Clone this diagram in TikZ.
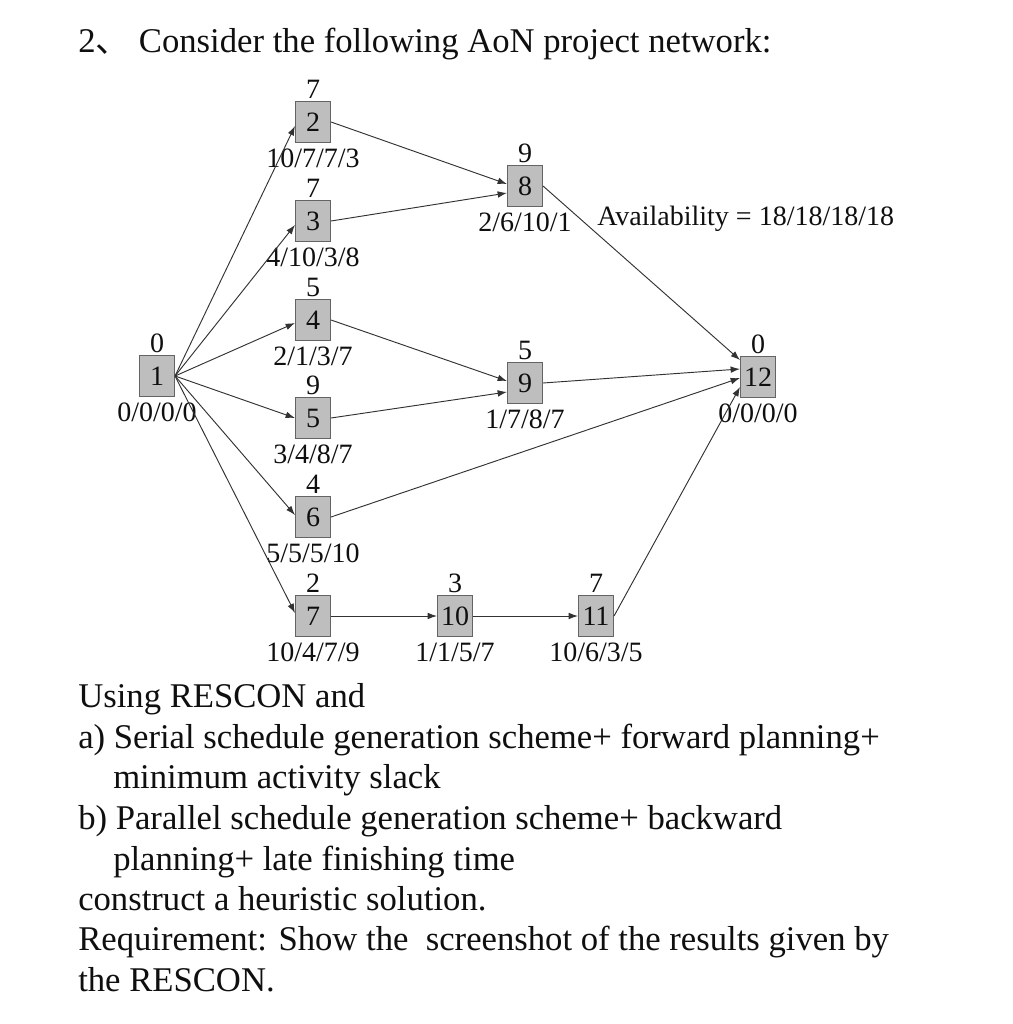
\documentclass[tikz,border=0pt]{standalone}
\usepackage{fontspec}
\setmainfont{Liberation Serif}
\newfontfamily\cjkfont{Noto Sans CJK SC}
\usetikzlibrary{arrows.meta,calc}
\definecolor{boxfill}{RGB}{190,190,190}
\definecolor{boxline}{RGB}{100,100,100}
\definecolor{edge}{RGB}{50,50,50}
\definecolor{txt}{RGB}{15,15,15}
\begin{document}
\begin{tikzpicture}[x=0.75pt,y=-0.75pt,
  act/.style={draw=boxline, fill=boxfill, line width=0.8pt, minimum width=26.25pt, minimum height=30.75pt, inner sep=0pt, font=\fontsize{21}{25}\selectfont, text=txt},
  lab/.style={anchor=base, inner sep=0pt, font=\fontsize{21}{25}\selectfont, text=txt},
  para/.style={anchor=base west, inner sep=0pt, font=\fontsize{26}{30}\selectfont, text=txt},
  arc/.style={draw=edge, line width=0.7pt, -{Latex[length=7pt,width=5pt]}}
]
\fill[white] (0,0) rectangle (1013,1024);

% title
\node[para] (title) at (78,53) {2{\cjkfont 、} Consider the following AoN project network:};

% activities
\node[act] (n1)  at (157,376) {1};
\node[act] (n2)  at (313,122) {2};
\node[act] (n3)  at (313,221) {3};
\node[act] (n4)  at (313,320) {4};
\node[act] (n5)  at (313,418) {5};
\node[act] (n6)  at (313,517) {6};
\node[act] (n7)  at (313,616) {7};
\node[act] (n8)  at (525,186) {8};
\node[act] (n9)  at (525,383) {9};
\node[act] (n10) at (455,616) {10};
\node[act] (n11) at (596,616) {11};
\node[act] (n12) at (758,377) {12};

% durations (above) and resource requirements (below)
\foreach \n/\d/\r in {1/0/0\slash0\slash0\slash0, 2/7/10\slash7\slash7\slash3, 3/7/4\slash10\slash3\slash8,
  4/5/2\slash1\slash3\slash7, 5/9/3\slash4\slash8\slash7, 6/4/5\slash5\slash5\slash10,
  7/2/10\slash4\slash7\slash9, 8/9/2\slash6\slash10\slash1, 9/5/1\slash7\slash8\slash7,
  10/3/1\slash1\slash5\slash7, 11/7/10\slash6\slash3\slash5, 12/0/0\slash0\slash0\slash0}{
  \node[lab] (d\n) at ($(n\n.north)+(0,-2.5)$) {\d};
  \node[lab] (r\n) at ($(n\n.south)+(0,24)$) {\r};
}

\node[lab, anchor=base west] (avail) at (597,225) {Availability = 18/18/18/18};

% precedence relations
\draw[arc] (n1.east) -- ($(n2.west)+(0,4)$);
\draw[arc] (n1.east) -- ($(n3.west)+(0,4)$);
\draw[arc] (n1.east) -- ($(n4.west)+(0,3)$);
\draw[arc] (n1.east) -- ($(n5.west)+(0,0)$);
\draw[arc] (n1.east) -- ($(n6.west)+(0,-2)$);
\draw[arc] (n1.east) -- ($(n7.west)+(0,-3)$);
\draw[arc] (n2.east) -- ($(n8.west)+(0,-2)$);
\draw[arc] (n3.east) -- ($(n8.west)+(0,7)$);
\draw[arc] (n4.east) -- ($(n9.west)+(0,-2)$);
\draw[arc] (n5.east) -- ($(n9.west)+(0,9)$);
\draw[arc] (n8.east) -- ($(n12.west)+(0,-17)$);
\draw[arc] (n9.east) -- ($(n12.west)+(0,-8)$);
\draw[arc] (n6.east) -- ($(n12.west)+(0,1)$);
\draw[arc] (n11.east) -- ($(n12.west)+(0,10)$);
\draw[arc] (n7.east) -- (n10.west);
\draw[arc] (n10.east) -- (n11.west);

% question text
\node[para] (l1) at (78,707) {Using RESCON and};
\node[para] (l2) at (78,748) {a) Serial schedule generation scheme+ forward planning+};
\node[para] (l3) at (113,788) {minimum activity slack};
\node[para] (l4) at (78,829) {b) Parallel schedule generation scheme+ backward};
\node[para] (l5) at (113,870) {planning+ late finishing time};
\node[para] (l6) at (78,910) {construct a heuristic solution.};
\node[para] (l7) at (78,950) {Requirement: Show the\ \ screenshot of the results given by};
\node[para] (l8) at (78,991) {the RESCON.};
\end{tikzpicture}
\end{document}
